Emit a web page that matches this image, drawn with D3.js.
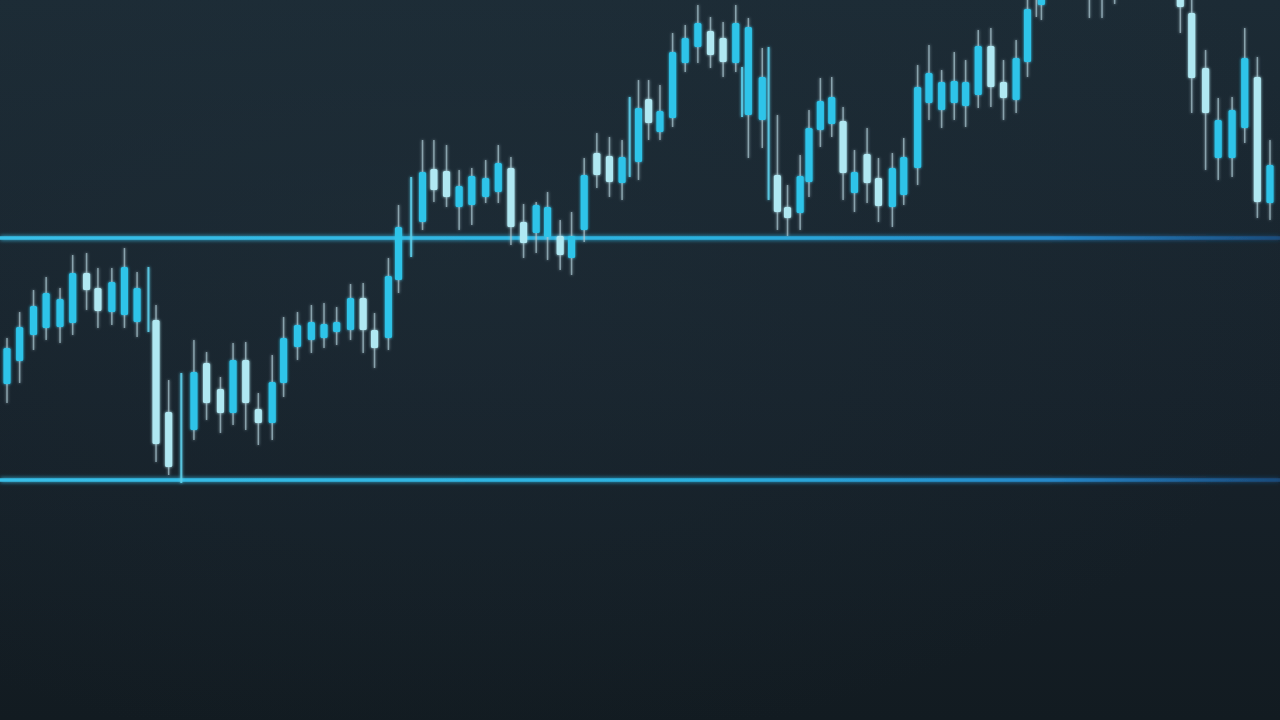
<!DOCTYPE html>
<html>
<head>
<meta charset="utf-8">
<script src="https://cdn.jsdelivr.net/npm/d3@7/dist/d3.min.js"></script>
<style>
  html, body { margin: 0; padding: 0; background: #151f27; overflow: hidden; }
  svg { display: block; }
</style>
</head>
<body>
<svg id="chart" width="1280" height="720"></svg>
<script>
// ---- data (bar time in session units, OHLC prices) ----
const times = [0,1.0,2.1,3.1,4.2,5.2,6.3,7.2,8.3,9.3,10.3,11.2,11.8,12.8,13.8,14.8,15.8,16.9,17.9,18.9,
  19.9,21.0,21.9,23.0,24.1,25.1,26.1,27.2,28.2,29.1,30.2,31.0,32.0,32.9,33.8,34.8,35.8,36.8,37.9,38.9,
  39.9,40.9,41.9,42.8,43.8,44.7,45.7,46.7,47.7,48.7,49.3,50.0,50.8,51.7,52.7,53.7,54.7,55.7,56.7,57.7,
  58.2,58.7,59.8,60.3,61.0,61.8,62.8,63.5,64.4,65.3,66.2,67.1,68.1,69.0,70.1,71.0,72.1,73.0,74.0,75.0,
  75.9,76.9,77.9,78.9,79.9,80.8,81.5,81.9,82.9,83.8,84.8,85.7,86.7,87.7,88.8,89.8,90.8,91.8,92.9,93.8,
  94.9,95.9,97.0,98.0,99.0,100.0];
const opens = [168,179.5,192.5,196,196.5,198.5,223.5,216,204,202.5,199,209,200,154,126,145,178.5,165.5,153.5,180,
  155.5,148.5,168.5,186.5,190,191,194,195,211,195,191,220,250.5,249,275.5,274.5,256.5,257.5,261.5,264,
  276,249,243.5,241.5,242,231,245,283.5,282,268.5,294,279,310.5,294,301,328.5,336.5,344.5,341,328.5,
  314,302.5,300,283,272.5,256.5,253.5,269,295,298,299.5,263.5,283,271,256.5,262.5,276,308.5,305,308.5,
  307,312.5,337,319,310,329,375,357.5,372,380,376,378,370,364,374,382,378,372,368,353.5,
  326,281,281,296,321.5,258.5];
const highs = [191,204,215,221.5,216,232.5,233.5,226,226,236,224,226.5,207.5,170,173.5,190,184,171.5,188.5,189,
  163.5,182.5,201.5,204,207.5,208.5,206.5,218,218.5,203.5,231,257.5,271.5,290,290,287.5,275,276,280,287.5,
  281.5,258,259,264,250,254,281,293.5,291.5,290,311.5,320,320,317.5,343.5,347.5,357.5,351.5,349,357.5,
  326.5,351,336,336.5,302.5,267.5,282.5,305,321,321.5,306.5,285,296,281,283.5,291,327.5,337.5,325,334,
  330,345,346,330,340,365,380,375,386,390,392,386,382,380,388,392,386,380,374,364,
  335,311,311.5,346,331.5,290];
const lows = [158.5,168.5,185,190,188.5,192.5,205,196,197.5,196,191.5,194,129,122.5,118.5,140,150,143.5,147.5,145,
  137.5,140,161.5,180,183.5,186,187.5,190,183.5,176,185,213.5,231.5,245,259,256.5,245,247.5,258.5,258.5,
  237.5,231,233.5,230,225,222.5,239,266,261.5,260,271.5,270,290,290,296.5,324,328.5,326,321.5,324,
  301.5,281,286,260,245,242,245,261.5,286.5,291.5,260,254,258.5,249,246.5,257.5,267.5,300,296,300,
  296.5,306,306.5,300,303.5,321.5,351.5,350,366,368,370,351,351,358,368,372,366,362,343.5,303.5,
  275,270,271.5,288.5,251,250];
const closes = [186,196.5,207,213.5,210.5,223.5,215,204.5,219,226.5,216,209,138,126.5,126,174,158.5,153.5,180,158.5,
  148.5,169,191,197.5,199,198,199,211,195,186,222,246.5,250.5,274,265,261.5,267,272,271,278.5,
  246.5,238.5,257.5,256.5,232.5,242,272.5,272.5,269,281.5,294,306,298.5,304.5,334,341,348.5,332.5,329,348.5,
  314,346.5,321.5,283,254,251,272,296,309.5,311.5,273.5,274,268.5,257,276,281.5,316.5,323.5,319,319.5,
  319,337,316.5,311,331,355.5,370,370,380,376,384,368,362,374,382,378,372,366,356.5,321,
  303.5,300,305,331,259,277.5];
const levels = [120, 241];   // support, resistance

// ---- drawing ----
const W = 1280, H = 720;
const svg = d3.select("#chart");
const defs = svg.append("defs");

const bg = defs.append("linearGradient").attr("id","bg").attr("x1",0).attr("y1",0).attr("x2",0).attr("y2",1);
bg.append("stop").attr("offset","0%").attr("stop-color","#1c2b35");
bg.append("stop").attr("offset","55%").attr("stop-color","#17222b");
bg.append("stop").attr("offset","100%").attr("stop-color","#121b21");

const rg = defs.append("radialGradient").attr("id","glowbg").attr("cx","0.35").attr("cy","0.35").attr("r","0.7");
rg.append("stop").attr("offset","0%").attr("stop-color","#22333e").attr("stop-opacity",0.35);
rg.append("stop").attr("offset","100%").attr("stop-color","#22333e").attr("stop-opacity",0);

const lg = defs.append("linearGradient").attr("id","lineGrad").attr("gradientUnits","userSpaceOnUse")
  .attr("x1",0).attr("y1",0).attr("x2",W).attr("y2",0);
lg.append("stop").attr("offset","0%").attr("stop-color","#38bfe8");
lg.append("stop").attr("offset","55%").attr("stop-color","#2bb1df");
lg.append("stop").attr("offset","82%").attr("stop-color","#2588c9");
lg.append("stop").attr("offset","100%").attr("stop-color","#1c5a98").attr("stop-opacity",0.6);

function glow(id, sd){
  const f = defs.append("filter").attr("id",id).attr("filterUnits","userSpaceOnUse")
    .attr("x",-20).attr("y",-20).attr("width",W+40).attr("height",H+40);
  f.append("feGaussianBlur").attr("stdDeviation",sd).attr("result","b");
  const fm = f.append("feMerge");
  fm.append("feMergeNode").attr("in","b");
  fm.append("feMergeNode").attr("in","SourceGraphic");
}
glow("glow", 1.6);
glow("lineGlow", 2.2);

svg.append("rect").attr("width",W).attr("height",H).attr("fill","url(#bg)");
svg.append("rect").attr("width",W).attr("height",H).attr("fill","url(#glowbg)");

const x = d3.scaleLinear().domain([0,100]).range([7,1270]);
const y = d3.scaleLinear().domain([0,360]).range([H,0]);

const data = times.map((t,i)=>({t, o:opens[i], h:highs[i], l:lows[i], c:closes[i]}));
const bw = (x(1)-x(0))*0.56;

// level lines
svg.append("g").attr("filter","url(#lineGlow)")
  .selectAll("line").data(levels).join("line")
  .attr("x1",0).attr("x2",W)
  .attr("y1",d=>y(d)).attr("y2",d=>y(d))
  .attr("stroke","url(#lineGrad)").attr("stroke-width",3.4);

const g = svg.append("g").attr("filter","url(#glow)");
const c = g.selectAll("g.c").data(data).join("g").attr("class","c");
const isDoji = d => Math.abs(d.o-d.c) < 0.5;
c.append("line")
  .attr("x1",d=>x(d.t)).attr("x2",d=>x(d.t))
  .attr("y1",d=>y(d.h)).attr("y2",d=>y(d.l))
  .attr("stroke",d=>isDoji(d) ? "#5ccde9" : "#a9c6d0")
  .attr("stroke-opacity",d=>isDoji(d) ? 0.9 : 0.7)
  .attr("stroke-width",d=>isDoji(d) ? 2 : 1.5);
c.filter(d=>!isDoji(d)).append("rect")
  .attr("x",d=>x(d.t)-bw/2).attr("width",bw)
  .attr("y",d=>y(Math.max(d.o,d.c)))
  .attr("height",d=>Math.max(1.5, Math.abs(y(d.o)-y(d.c))))
  .attr("rx",1.5)
  .attr("fill",d=>d.c>=d.o ? "#2ec4e9" : "#b0e8f2");
</script>
</body>
</html>
